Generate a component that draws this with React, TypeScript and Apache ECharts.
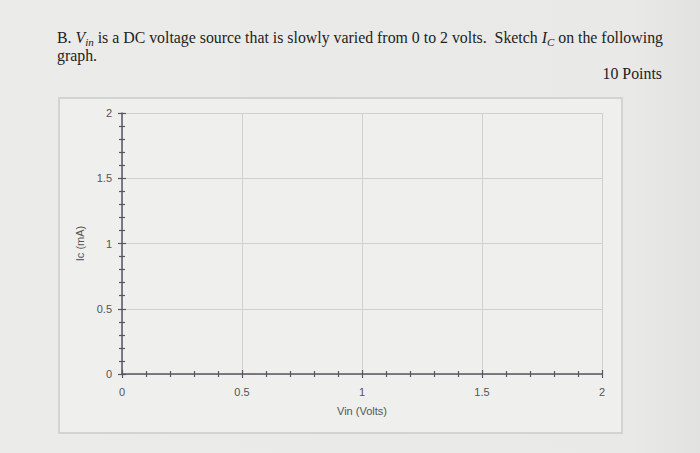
import React, { useEffect, useRef } from "react";
import * as echarts from "echarts";

const xTickValues = [0, 0.5, 1, 1.5, 2];
const xTickLabels = ["0", "0.5", "1", "1.5", "2"];
const yTickValues = [0, 0.5, 1, 1.5, 2];
const yTickLabels = ["0", "0.5", "1", "1.5", "2"];
const xName = "Vin (Volts)";
const yName = "Ic (mA)";
const icSeries: number[][] = [];

const AXIS_COLOR = "#5c5464";
const LABEL_FONT = "Liberation Sans";
const TITLE_SIZE = 15.85;

function labelFor(values: number[], labels: string[]) {
  return (v: number) => {
    const i = values.findIndex((t) => Math.abs(t - v) < 1e-9);
    return i >= 0 ? labels[i] : "";
  };
}

export default function App() {
  const ref = useRef<HTMLDivElement>(null);
  useEffect(() => {
    if (!ref.current) return;
    const chart = echarts.init(ref.current, null, { renderer: "svg" });
    const common = {
      type: "value" as const,
      min: 0,
      max: 2,
      interval: 0.5,
    };
    const tickStyle = { color: AXIS_COLOR, width: 1.2 };
    chart.setOption({
      animation: false,
      backgroundColor: {
        type: "linear",
        x: 0,
        y: 0,
        x2: 1,
        y2: 0,
        colorStops: [
          { offset: 0, color: "#ebebe9" },
          { offset: 0.9, color: "#e9e9e7" },
          { offset: 1, color: "#e2e2e0" },
        ],
      },
      graphic: [
        {
          type: "rect",
          shape: { x: 59, y: 98, width: 563, height: 335 },
          style: { fill: "#efefed", stroke: "#d3d3d1", lineWidth: 2 },
          z: -10,
          silent: true,
        },
        {
          type: "text",
          x: 57,
          y: 29.5,
          style: {
            text:
              "{n|B. }{i|V}{s|in}{n| is a DC voltage source that is slowly varied from 0 to 2 volts.  Sketch }{i|I}{s|C}{n| on the following}",
            rich: {
              n: { fontFamily: "Liberation Serif", fontSize: TITLE_SIZE, lineHeight: 16, fill: "#222", verticalAlign: "top" },
              i: { fontFamily: "Liberation Serif", fontSize: TITLE_SIZE, fontStyle: "italic", lineHeight: 16, fill: "#222", verticalAlign: "top" },
              s: { fontFamily: "Liberation Serif", fontSize: 11, fontStyle: "italic", lineHeight: 7, padding: [7, 0, 0, 0], fill: "#222", verticalAlign: "top" },
            },
          },
        },
        {
          type: "text",
          x: 57,
          y: 48.5,
          style: { text: "graph.", fontFamily: "Liberation Serif", fontSize: TITLE_SIZE, lineHeight: 13, fill: "#222" },
        },
        {
          type: "text",
          x: 662,
          y: 65,
          style: { text: "10 Points", fontFamily: "Liberation Serif", fontSize: TITLE_SIZE, fill: "#222", align: "right" },
        },
      ],
      grid: { left: 122, right: 98, top: 113, bottom: 79, containLabel: false },
      xAxis: [
        {
          ...common,
          position: "bottom",
          name: xName,
          nameLocation: "middle",
          nameGap: 31,
          nameTextStyle: { color: "#555", fontSize: 11, fontFamily: LABEL_FONT },
          axisLine: { show: true, lineStyle: { color: AXIS_COLOR, width: 1.5 } },
          axisTick: { show: true, inside: false, length: 4, lineStyle: tickStyle },
          minorTick: { show: true, splitNumber: 5, length: 3, lineStyle: tickStyle },
          axisLabel: {
            margin: 12,
            color: "#555",
            fontSize: 11,
            fontFamily: LABEL_FONT,
            formatter: labelFor(xTickValues, xTickLabels),
          },
          splitLine: { show: true, lineStyle: { color: "#d0d0ce", width: 1 } },
        },
        {
          ...common,
          position: "bottom",
          axisLine: { show: false },
          axisTick: { show: true, inside: true, length: 4, lineStyle: tickStyle },
          minorTick: { show: true, splitNumber: 5, length: 3, lineStyle: tickStyle },
          axisLabel: { show: false },
          splitLine: { show: false },
        },
      ],
      yAxis: [
        {
          ...common,
          position: "left",
          name: yName,
          nameLocation: "middle",
          nameGap: 29,
          nameTextStyle: { color: "#555", fontSize: 11, fontFamily: LABEL_FONT },
          axisLine: { show: true, lineStyle: { color: AXIS_COLOR, width: 1.5 } },
          axisTick: { show: true, inside: false, length: 4, lineStyle: tickStyle },
          minorTick: { show: true, splitNumber: 5, length: 3, lineStyle: tickStyle },
          axisLabel: {
            margin: 10,
            color: "#555",
            fontSize: 11,
            fontFamily: LABEL_FONT,
            formatter: labelFor(yTickValues, yTickLabels),
          },
          splitLine: { show: true, lineStyle: { color: "#d0d0ce", width: 1 } },
        },
        {
          ...common,
          position: "left",
          axisLine: { show: false },
          axisTick: { show: true, inside: true, length: 4, lineStyle: tickStyle },
          minorTick: { show: true, splitNumber: 5, length: 3, lineStyle: tickStyle },
          axisLabel: { show: false },
          splitLine: { show: false },
        },
      ],
      series: [
        {
          type: "line",
          data: icSeries,
          xAxisIndex: 0,
          yAxisIndex: 0,
          showSymbol: false,
        },
      ],
    });
    return () => chart.dispose();
  }, []);
  return (
    <div
      ref={ref}
      style={{ position: "fixed", left: 0, top: 0, width: 700, height: 453 }}
    />
  );
}
